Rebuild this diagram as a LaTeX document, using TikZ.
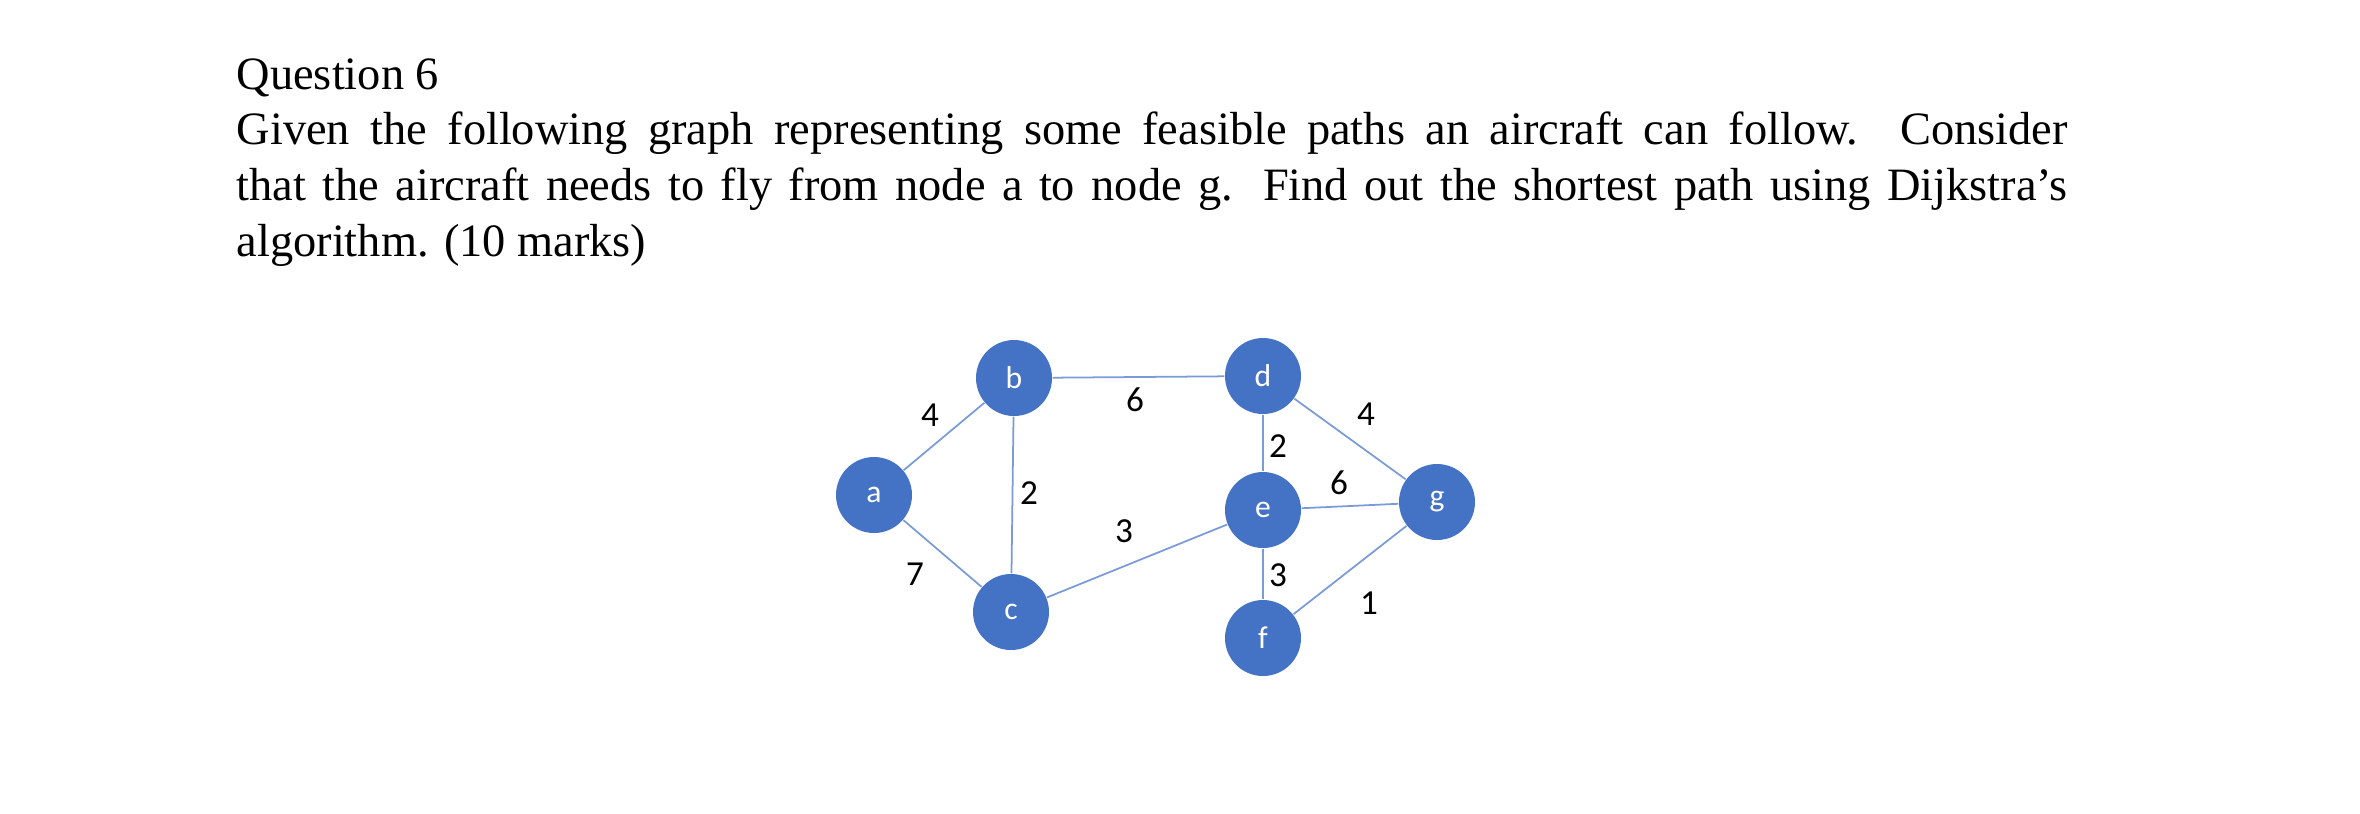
\documentclass[tikz,border=0pt]{standalone}
\usepackage{fontspec}
\setmainfont{Liberation Serif}
\newfontfamily\calib{Carlito}
\definecolor{nodeblue}{HTML}{4472C4}
\definecolor{edgeblue}{HTML}{7A9BD8}
\begin{document}
\begin{tikzpicture}[x=1cm,y=-1cm]
\tikzset{vx/.style={circle, fill=nodeblue, minimum size=0.76cm, inner sep=0pt, text=white, font=\calib\fontsize{9}{9}\selectfont},
 wt/.style={font=\calib\fontsize{10}{10}\selectfont, inner sep=0pt},
 ed/.style={draw=edgeblue, line width=0.5pt}}

\useasboundingbox (0,0) rectangle (23.6,8.13);

% Question text
\node[anchor=north west, text width=18.31cm, align=justify, inner sep=0pt,
 font=\fontsize{13.2}{15.8}\selectfont] (q) at (2.36,0.58)
{Question 6\\
Given the following graph representing some feasible paths an aircraft can follow. Consider\linebreak
that the aircraft needs to fly from node a to node g. Find out the shortest path using Dijkstra's\linebreak
algorithm. (10 marks)};

% Vertices
\node[vx] (a) at (8.74,4.95) {a};
\node[vx] (b) at (10.14,3.78) {b};
\node[vx] (c) at (10.11,6.12) {c};
\node[vx] (d) at (12.63,3.76) {d};
\node[vx] (e) at (12.63,5.10) {e};
\node[vx] (f) at (12.63,6.38) {f};
\node[vx] (g) at (14.37,5.02) {g};

% Edges
\draw[ed] (a) -- (b);
\draw[ed] (a) -- (c);
\draw[ed] (b) -- (c);
\draw[ed] (b) -- (d);
\draw[ed] (c) -- (e);
\draw[ed] (d) -- (e);
\draw[ed] (d) -- (g);
\draw[ed] (e) -- (g);
\draw[ed] (e) -- (f);
\draw[ed] (f) -- (g);

% Weights
\node[wt] (wab) at (9.30,4.15) {4};
\node[wt] (wbd) at (11.35,4.00) {6};
\node[wt] (wdg) at (13.66,4.14) {4};
\node[wt] (wde) at (12.78,4.46) {2};
\node[wt] (wbc) at (10.29,4.93) {2};
\node[wt] (weg) at (13.39,4.83) {6};
\node[wt] (wce) at (11.24,5.31) {3};
\node[wt] (wac) at (9.15,5.74) {7};
\node[wt] (wef) at (12.78,5.75) {3};
\node[wt] (wfg) at (13.69,6.03) {1};

\end{tikzpicture}
\end{document}
